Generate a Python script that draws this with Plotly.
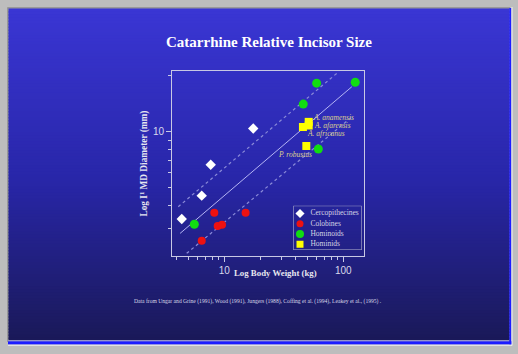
import math
import plotly.graph_objects as go

# ---------------- data ----------------
cerco_x = [4.39, 6.46, 7.69, 17.5]
cerco_y = [3.37, 4.51, 6.63, 10.4]
colob_x = [6.46, 8.24, 8.80, 9.57, 15.1]
colob_y = [2.57, 3.65, 3.09, 3.14, 3.65]
hominoid_x = [5.60, 46.1, 59.7, 126.0, 61.7]
hominoid_y = [3.16, 14.1, 18.3, 18.5, 8.06]
hominid_x = [51.2, 51.2, 45.8, 48.9]
hominid_y = [11.3, 10.8, 10.6, 8.37]
hominid_names = ["A. anamensis", "A. afarensis", "A. africanus", "P. robustus"]

fit_x = [4.25, 118.0]
fit_y = [2.82, 17.5]
upper_x = [4.10, 92.0]
upper_y = [3.93, 21.15]
lower_x = [4.83, 118.0]
lower_y = [2.20, 12.0]

legend_names = ["Cercopithecines", "Colobines", "Hominoids", "Hominids"]
x_major = [10, 100]
x_major_text = ["10", "100"]
x_minor = [4, 5, 6, 7, 8, 9, 20, 30, 40, 50, 60, 70, 80, 90]
y_major = [10]
y_major_text = ["10"]
y_minor = [3, 4, 5, 6, 7, 8, 9, 20]

title = "Catarrhine Relative Incisor Size"
xtitle = "Log Body Weight (kg)"
ytitle = "Log I<sup>1</sup> MD Diameter (mm)"
footnote = ("Data from Ungar and Grine (1991), Wood (1991), Jungers (1988), "
            "Coffing et al. (1994), Leakey et al., (1995) .")

# ---------------- layout geometry ----------------
W, H = 518, 354
L, R, T, B = 172, 364, 71, 256
PW, PH = R - L, B - T


def px(x):
    return (x - L) / PW


def py(y):
    return (B - y) / PH


serif = "Liberation Serif, Times New Roman, serif"
sans = "Liberation Sans, Arial, sans-serif"

fig = go.Figure()

colors = ["#ffffff", "#ee1111", "#11dd11", "#ffff00"]
symbols = ["diamond", "circle", "circle", "square"]
sizes = [8, 8, 9, 8]
series = [(cerco_x, cerco_y), (colob_x, colob_y), (hominoid_x, hominoid_y), (hominid_x, hominid_y)]

# regression + confidence lines
fig.add_trace(go.Scatter(x=fit_x, y=fit_y, mode="lines",
                         line=dict(color="#b4b4f4", width=1), showlegend=False, hoverinfo="skip"))
fig.add_trace(go.Scatter(x=upper_x, y=upper_y, mode="lines",
                         line=dict(color="#8a8ad8", width=1.2, dash="dot"), showlegend=False, hoverinfo="skip"))
fig.add_trace(go.Scatter(x=lower_x, y=lower_y, mode="lines",
                         line=dict(color="#8a8ad8", width=1.2, dash="dot"), showlegend=False, hoverinfo="skip"))

for (sx, sy), c, s, z, n in zip(series, colors, symbols, sizes, legend_names):
    fig.add_trace(go.Scatter(x=sx, y=sy, mode="markers", name=n, showlegend=False,
                             marker=dict(color=c, symbol=s, size=z, line=dict(width=0))))

# manual legend in its own small axes
row_y = [3.3 - i * 0.93 for i in range(len(legend_names))]
for n, c, s, z, yy in zip(legend_names, colors, symbols, sizes, row_y):
    fig.add_trace(go.Scatter(x=[0.098], y=[yy], xaxis="x2", yaxis="y2", mode="markers",
                             marker=dict(color=c, symbol=s, size=z - 1, line=dict(width=0)),
                             showlegend=False, hoverinfo="skip"))
fig.add_trace(go.Scatter(x=[0.25] * len(legend_names), y=row_y, xaxis="x2", yaxis="y2",
                         mode="text", text=legend_names, textposition="middle right",
                         textfont=dict(family=serif, size=7.5, color="#d4d4e4"),
                         showlegend=False, hoverinfo="skip"))

# ---------------- background shapes ----------------
shapes = []
top_c = (58, 54, 212)
mid_c = (40, 38, 168)
bot_c = (26, 25, 88)
y0, ym, y1 = 8.3, 180, 340.5
n_b = 110
for i in range(n_b):
    ya = y0 + (y1 - y0) * i / n_b
    yb = y0 + (y1 - y0) * (i + 1) / n_b
    yc = (ya + yb) / 2
    if yc < ym:
        f = (yc - y0) / (ym - y0)
        c = [a + (b - a) * f for a, b in zip(top_c, mid_c)]
    else:
        f = (yc - ym) / (y1 - ym)
        c = [a + (b - a) * f for a, b in zip(mid_c, bot_c)]
    col = "rgb(%d,%d,%d)" % tuple(int(round(v)) for v in c)
    shapes.append(dict(type="rect", xref="paper", yref="paper", layer="below",
                       x0=px(8.3), x1=px(509.5), y0=py(min(yb + 1.5, y1)), y1=py(ya),
                       fillcolor=col, line=dict(width=0)))
# frame details
shapes.append(dict(type="line", xref="paper", yref="paper", layer="below",
                   x0=px(7.5), x1=px(510), y0=py(7.8), y1=py(7.8), line=dict(color="#8a8a8a", width=1)))
shapes.append(dict(type="line", xref="paper", yref="paper", layer="below",
                   x0=px(7.8), x1=px(7.8), y0=py(7.5), y1=py(342), line=dict(color="#8a8a8a", width=1)))
shapes.append(dict(type="rect", xref="paper", yref="paper", layer="below",
                   x0=px(8), x1=px(512), y0=py(344.5), y1=py(341.2), fillcolor="#1c1cff", line=dict(width=0)))
shapes.append(dict(type="rect", xref="paper", yref="paper", layer="below",
                   x0=px(509.3), x1=px(511.3), y0=py(344.5), y1=py(8), fillcolor="#1c1cff", line=dict(width=0)))
shapes.append(dict(type="line", xref="paper", yref="paper", layer="below",
                   x0=px(8), x1=px(512), y0=py(345.2), y1=py(345.2), line=dict(color="#f2f2f2", width=1)))
shapes.append(dict(type="line", xref="paper", yref="paper", layer="below",
                   x0=px(512), x1=px(512), y0=py(345.5), y1=py(7), line=dict(color="#f2f2f2", width=1)))
shapes.append(dict(type="line", xref="paper", yref="paper", layer="below",
                   x0=px(8), x1=px(509), y0=py(340.6), y1=py(340.6), line=dict(color="#9a9ad0", width=1)))
# legend box
shapes.append(dict(type="rect", xref="x2", yref="y2", x0=0, x1=1, y0=0, y1=4,
                   line=dict(color="#b8b8d0", width=1), fillcolor="rgba(0,0,0,0)"))

# ---------------- annotations ----------------
ann = [
    dict(text="<b>" + title + "</b>", x=px(268.5), y=py(41.5), xref="paper", yref="paper",
         xanchor="center", yanchor="middle",
         showarrow=False, font=dict(family=serif, size=15, color="#ffffff")),
    dict(text="<b>" + xtitle + "</b>", x=px(275), y=py(272.7), xref="paper", yref="paper",
         xanchor="center", yanchor="middle",
         showarrow=False, font=dict(family=serif, size=8.8, color="#e6e6f0")),
    dict(text="<b>" + ytitle + "</b>", x=px(143.5), y=py(164), xref="paper", yref="paper",
         xanchor="center", yanchor="middle",
         showarrow=False, textangle=-90, font=dict(family=serif, size=9.3, color="#e6e6f0")),
    dict(text=footnote, x=px(258), y=py(301), xref="paper", yref="paper",
         xanchor="center", yanchor="middle",
         showarrow=False, font=dict(family=serif, size=5.6, color="#d8d8e8")),
]
label_shift = [(2, 4.7, "left"), (3.5, 0, "left"), (2, -6.3, "left"), (-11, -9, "center")]
for name, hx, hy, (dx, dy, anc) in zip(hominid_names, hominid_x, hominid_y, label_shift):
    ann.append(dict(text="<i>" + name + "</i>", x=math.log10(hx), y=math.log10(hy),
                    xref="x", yref="y", xanchor=anc, yanchor="middle",
                    xshift=dx, yshift=dy, showarrow=False,
                    font=dict(family=serif, size=7.5, color="#ddd28e")))

axis_line = "#c8c8e4"
fig.update_layout(
    width=W, height=H,
    margin=dict(l=L, r=W - R, t=T, b=H - B, pad=0, autoexpand=False),
    paper_bgcolor="#bdbdbd", plot_bgcolor="rgba(0,0,0,0)",
    showlegend=False, shapes=shapes, annotations=ann,
    xaxis=dict(type="log", range=[0.5605, 2.174], showgrid=False, zeroline=False,
               showline=True, linecolor=axis_line, linewidth=1, mirror=True,
               tickmode="array", tickvals=x_major, ticktext=x_major_text,
               ticks="outside", ticklen=5, tickcolor=axis_line, tickwidth=1,
               tickfont=dict(family=sans, size=10, color="#d8d8ec"),
               minor=dict(tickmode="array", tickvals=x_minor, ticks="outside", ticklen=3,
                          tickcolor=axis_line, tickwidth=1, showgrid=False)),
    yaxis=dict(type="log", range=[0.328, 1.328], showgrid=False, zeroline=False,
               showline=True, linecolor=axis_line, linewidth=1, mirror=True,
               tickmode="array", tickvals=y_major, ticktext=y_major_text,
               ticks="outside", ticklen=5, tickcolor=axis_line, tickwidth=1,
               tickfont=dict(family=sans, size=10, color="#d8d8ec"),
               minor=dict(tickmode="array", tickvals=y_minor, ticks="outside", ticklen=3,
                          tickcolor=axis_line, tickwidth=1, showgrid=False)),
    xaxis2=dict(domain=[(293.3 - L) / PW, (361.7 - L) / PW], range=[0, 1], anchor="y2",
                visible=False, fixedrange=True),
    yaxis2=dict(domain=[(B - 250) / PH, (B - 205.7) / PH], range=[0, 4], anchor="x2",
                visible=False, fixedrange=True),
)

fig.write_html("out.html")
